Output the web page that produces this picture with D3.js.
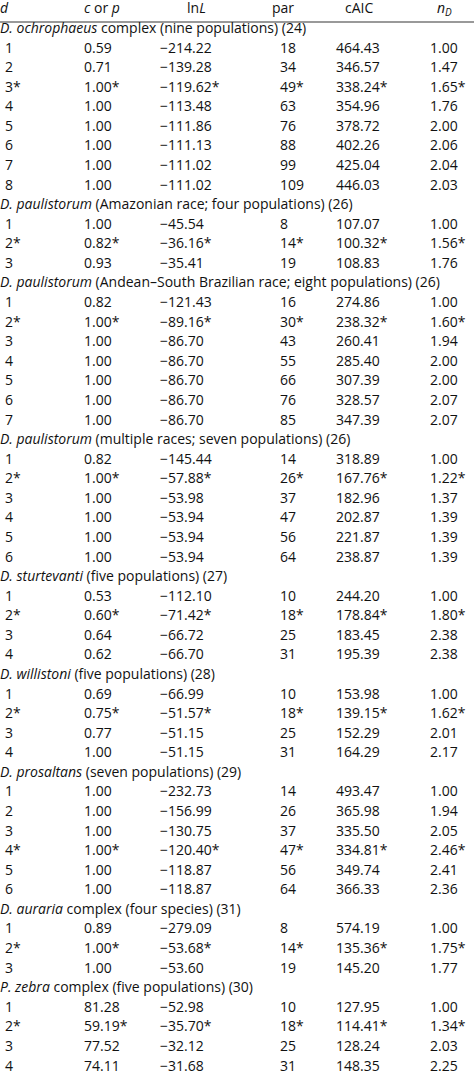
<!DOCTYPE html>
<html><head><meta charset="utf-8">
<script src="https://cdn.jsdelivr.net/npm/d3@7"></script>
<style>body{margin:0;background:#fff}</style>
</head><body><div id="chart"></div>
<script>
const groupGenus = ["D. ochrophaeus", "D. paulistorum", "D. paulistorum", "D. paulistorum", "D. sturtevanti", "D. willistoni", "D. prosaltans", "D. auraria", "P. zebra"]
const groupRest = [" complex (nine populations) (24)", " (Amazonian race; four populations) (26)",
  " (Andean\u2013South Brazilian race; eight populations) (26)", " (multiple races; seven populations) (26)",
  " (five populations) (27)", " (five populations) (28)", " (seven populations) (29)",
  " complex (four species) (31)", " complex (five populations) (30)"]
const rows = [
  [["1","0.59","\u2212214.22","18","464.43","1.00"],["2","0.71","\u2212139.28","34","346.57","1.47"],["3*","1.00*","\u2212119.62*","49*","338.24*","1.65*"],["4","1.00","\u2212113.48","63","354.96","1.76"],["5","1.00","\u2212111.86","76","378.72","2.00"],["6","1.00","\u2212111.13","88","402.26","2.06"],["7","1.00","\u2212111.02","99","425.04","2.04"],["8","1.00","\u2212111.02","109","446.03","2.03"]],
  [["1","1.00","\u221245.54","8","107.07","1.00"],["2*","0.82*","\u221236.16*","14*","100.32*","1.56*"],["3","0.93","\u221235.41","19","108.83","1.76"]],
  [["1","0.82","\u2212121.43","16","274.86","1.00"],["2*","1.00*","\u221289.16*","30*","238.32*","1.60*"],["3","1.00","\u221286.70","43","260.41","1.94"],["4","1.00","\u221286.70","55","285.40","2.00"],["5","1.00","\u221286.70","66","307.39","2.00"],["6","1.00","\u221286.70","76","328.57","2.07"],["7","1.00","\u221286.70","85","347.39","2.07"]],
  [["1","0.82","\u2212145.44","14","318.89","1.00"],["2*","1.00*","\u221257.88*","26*","167.76*","1.22*"],["3","1.00","\u221253.98","37","182.96","1.37"],["4","1.00","\u221253.94","47","202.87","1.39"],["5","1.00","\u221253.94","56","221.87","1.39"],["6","1.00","\u221253.94","64","238.87","1.39"]],
  [["1","0.53","\u2212112.10","10","244.20","1.00"],["2*","0.60*","\u221271.42*","18*","178.84*","1.80*"],["3","0.64","\u221266.72","25","183.45","2.38"],["4","0.62","\u221266.70","31","195.39","2.38"]],
  [["1","0.69","\u221266.99","10","153.98","1.00"],["2*","0.75*","\u221251.57*","18*","139.15*","1.62*"],["3","0.77","\u221251.15","25","152.29","2.01"],["4","1.00","\u221251.15","31","164.29","2.17"]],
  [["1","1.00","\u2212232.73","14","493.47","1.00"],["2","1.00","\u2212156.99","26","365.98","1.94"],["3","1.00","\u2212130.75","37","335.50","2.05"],["4*","1.00*","\u2212120.40*","47*","334.81*","2.46*"],["5","1.00","\u2212118.87","56","349.74","2.41"],["6","1.00","\u2212118.87","64","366.33","2.36"]],
  [["1","0.89","\u2212279.09","8","574.19","1.00"],["2*","1.00*","\u221253.68*","14*","135.36*","1.75*"],["3","1.00","\u221253.60","19","145.20","1.77"]],
  [["1","81.28","\u221252.98","10","127.95","1.00"],["2*","59.19*","\u221235.70*","18*","114.41*","1.34*"],["3","77.52","\u221232.12","25","128.24","2.03"],["4","74.11","\u221231.68","31","148.35","2.25"]]
]
const colX = [5, 84, 160, 280, 336, 430]

const W = 474, H = 1087
const svg = d3.select('#chart').append('svg').attr('width', W).attr('height', H)
  .style('font-family', '"Open Sans", sans-serif').style('font-size', '14px').attr('fill', '#111')

// header
const hdr = svg.append('g').attr('transform', 'translate(0,13)')
hdr.append('text').attr('x', 0).style('font-style', 'italic').text('d')
const h2 = hdr.append('text').attr('x', 84)
h2.append('tspan').style('font-style', 'italic').text('c')
h2.append('tspan').text(' or ')
h2.append('tspan').style('font-style', 'italic').text('p')
const h3 = hdr.append('text').attr('x', 187)
h3.append('tspan').text('ln')
h3.append('tspan').style('font-style', 'italic').text('L')
hdr.append('text').attr('x', 272).text('par')
hdr.append('text').attr('x', 345).text('cAIC')
const h6 = hdr.append('text').attr('x', 437)
h6.append('tspan').style('font-style', 'italic').text('n')
h6.append('tspan').style('font-style', 'italic').attr('dy', 3).style('font-size', '10px').text('D')
svg.append('line').attr('x1', 0).attr('x2', W).attr('y1', 22).attr('y2', 22).attr('stroke', '#777').attr('stroke-width', 1.5)

// flatten lines
const lines = []
rows.forEach((g, i) => {
  lines.push({type: 'title', i})
  g.forEach(r => lines.push({type: 'row', r}))
})
const y = d3.scaleLinear().domain([0, lines.length - 1]).range([33, 1070.5])

lines.forEach((l, k) => {
  if (l.type === 'title') {
    const t = svg.append('text').attr('x', 0).attr('y', y(k))
    t.append('tspan').style('font-style', 'italic').text(groupGenus[l.i])
    t.append('tspan').text(groupRest[l.i])
  } else {
    svg.append('g').selectAll('text').data(l.r).join('text')
      .attr('x', (d, j) => colX[j]).attr('y', y(k)).text(d => d)
  }
})
</script></body></html>
